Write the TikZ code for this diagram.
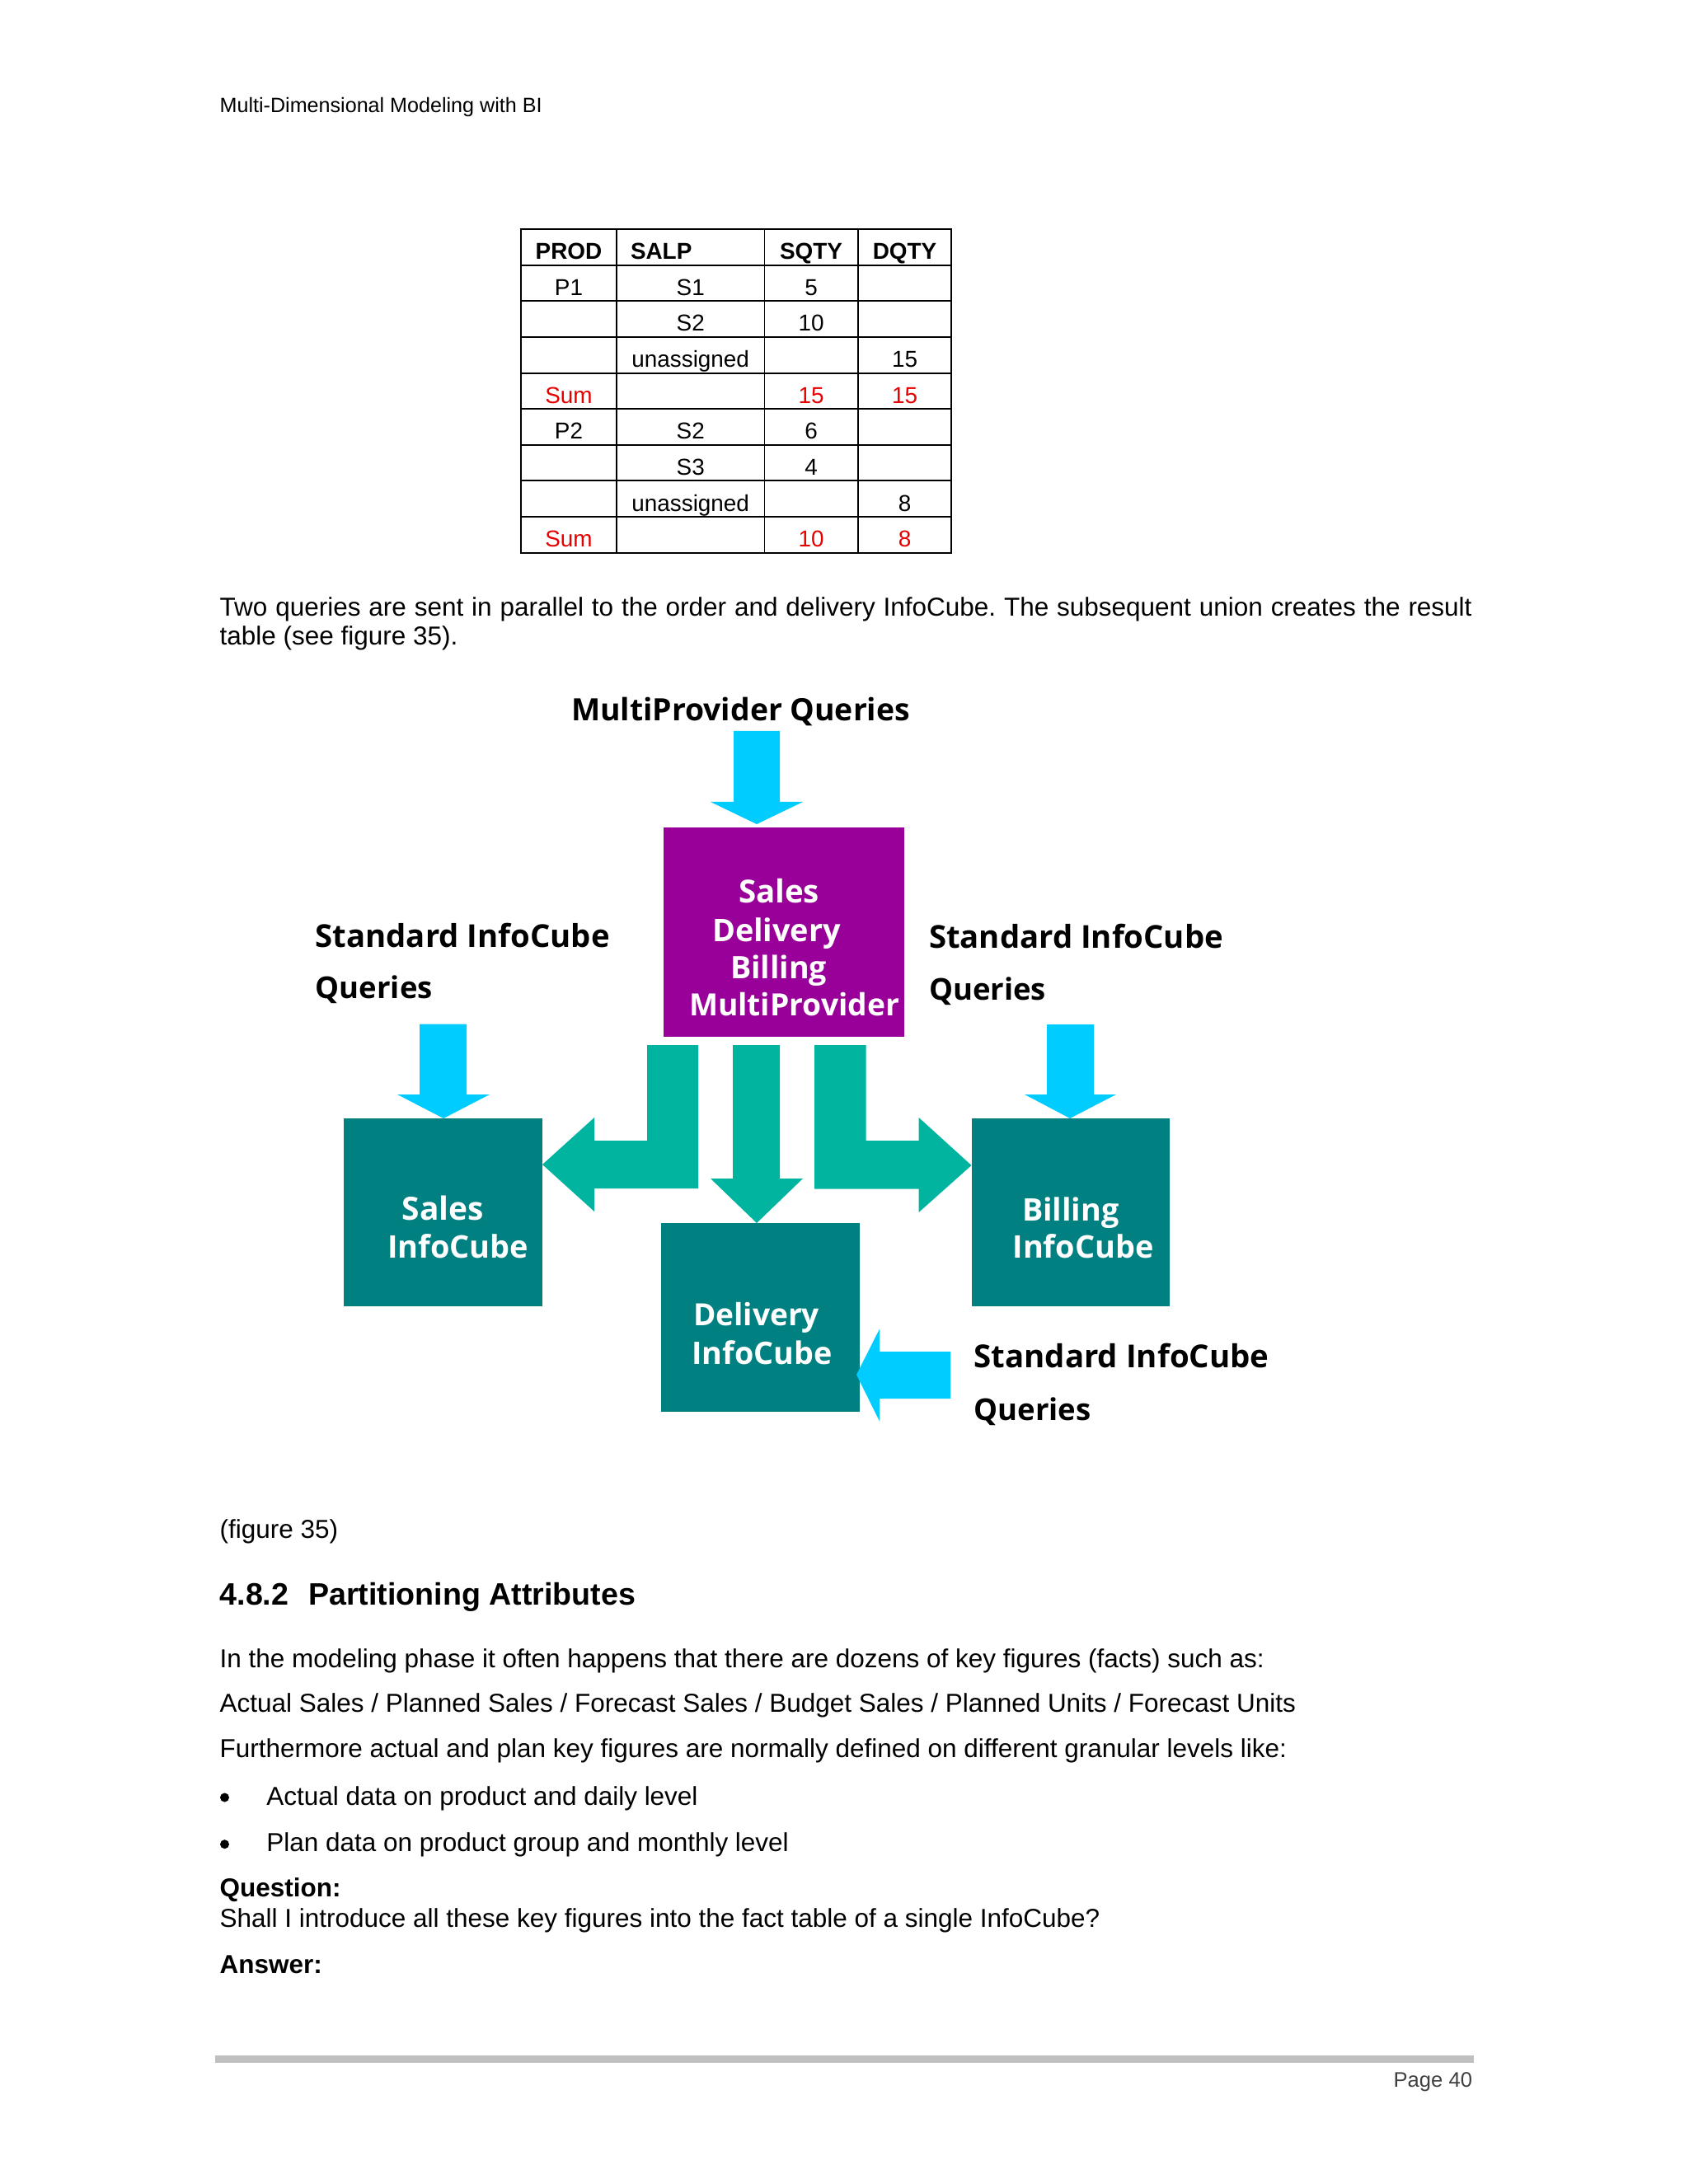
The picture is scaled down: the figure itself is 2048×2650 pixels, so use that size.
\documentclass[tikz,border=0pt]{standalone}
\usepackage{fontspec}
\usepackage{graphicx}
\setmainfont{Liberation Sans}
\newfontfamily\dfont{Open Sans}
\newlength\pxu
\setlength\pxu{0.25pt}
\frenchspacing
\definecolor{cyanarr}{HTML}{00CCFF}
\definecolor{purp}{HTML}{990099}
\definecolor{tealbox}{HTML}{008080}
\definecolor{tealarr}{HTML}{00B4A0}
\definecolor{sumred}{HTML}{E60000}
\definecolor{rulegray}{HTML}{C0C0C0}
\definecolor{pagegray}{HTML}{404040}
\newcommand{\fw}[2]{\resizebox{#1\pxu}{!}{\dfont\bfseries #2}}
\begin{document}
\begin{tikzpicture}[x=0.25pt,y=-0.25pt,
  txt/.style={inner sep=0pt, outer sep=0pt, anchor=base west},
  ctxt/.style={inner sep=0pt, outer sep=0pt, anchor=base},
  body/.style={txt, font=\fontsize{7.87pt}{9pt}\selectfont\frenchspacing},
  bodyb/.style={body, font=\fontsize{7.87pt}{9pt}\selectfont\bfseries},
  tcell/.style={ctxt, font=\fontsize{6.97pt}{8pt}\selectfont},
  thead/.style={inner sep=0pt, outer sep=0pt, font=\fontsize{6.97pt}{8pt}\selectfont\bfseries},
  tsum/.style={tcell, text=sumred},
  grid/.style={draw=black, line width=0.45pt},
  box/.style={draw=none, inner sep=0pt, outer sep=0pt},
  wlab/.style={ctxt, text=white},
  blab/.style={txt, text=black},
  bul/.style={circle, fill=black, draw=none, inner sep=0pt, minimum size=11\pxu},
  cyanblk/.style={fill=cyanarr, draw=none},
  tealblk/.style={fill=tealarr, draw=none}]
\useasboundingbox (0,0) rectangle (2048,2650);
\fill[white] (0,0) rectangle (2048,2650);

% running header
\node[txt, font=\fontsize{6.28pt}{7.5pt}\selectfont] (hdr) at (266.7,136.7) {Multi-Dimensional Modeling with BI};

% table
\draw[grid] (632,278.3) rectangle (1154,670.7);
\foreach \yy in {321.7,365.3,409,452.7,496.3,540,583.3,627.3}
  \draw[grid] (632,\yy) -- (1154,\yy);
\foreach \xx in {748,927.4,1041}
  \draw[grid] (\xx,278.3) -- (\xx,670.7);

\node[thead, anchor=base] (hprod) at (690,315) {PROD};
\node[thead, anchor=base west] (hsalp) at (765,315) {SALP};
\node[thead, anchor=base] (hsqty) at (984,315) {SQTY};
\node[thead, anchor=base] (hdqty) at (1097.5,315) {DQTY};

\node[tcell] (p1) at (690,358.3) {P1};
\node[tcell] (s1) at (837.7,358.3) {S1};
\node[tcell] (q1) at (984,358.3) {5};

\node[tcell] (s2a) at (837.7,402) {S2};
\node[tcell] (q2) at (984,402) {10};

\node[tcell] (ua) at (837.7,445.7) {unassigned};
\node[tcell] (d1) at (1097.5,445.7) {15};

\node[tsum] (sum1) at (690,489.3) {Sum};
\node[tsum] (sq1) at (984,489.3) {15};
\node[tsum] (sd1) at (1097.5,489.3) {15};

\node[tcell] (p2) at (690,533) {P2};
\node[tcell] (s2b) at (837.7,533) {S2};
\node[tcell] (q3) at (984,533) {6};

\node[tcell] (s3) at (837.7,576.3) {S3};
\node[tcell] (q4) at (984,576.3) {4};

\node[tcell] (ub) at (837.7,620.3) {unassigned};
\node[tcell] (d2) at (1097.5,620.3) {8};

\node[tsum] (sum2) at (690,663.7) {Sum};
\node[tsum] (sq2) at (984,663.7) {10};
\node[tsum] (sd2) at (1097.5,663.7) {8};

% paragraph (first line justified)
\node[body] (para1) at (266.7,747.7) {\makebox[1519\pxu][s]{Two queries are sent in parallel to the order and delivery InfoCube. The subsequent union creates the result}};
\node[body] (para2) at (266.7,782.7) {table (see figure 35).};

% ---------- diagram ----------
\node[box, fill=purp, minimum width=292\pxu, minimum height=254\pxu] (mp) at (951,1131) {};

% teal block arrows from MultiProvider
\fill[tealblk] (847,1268) -- (785,1268) -- (785,1384) -- (721,1384) -- (721,1356) -- (658,1413) -- (721,1470) -- (721,1442) -- (847,1442) -- cycle;
\fill[tealblk] (889,1268) -- (946,1268) -- (946,1430) -- (974,1430) -- (918,1484) -- (862,1430) -- (889,1430) -- cycle;
\fill[tealblk] (988,1268) -- (1050.6,1268) -- (1050.6,1384) -- (1114.6,1384) -- (1114.6,1356) -- (1178.5,1414) -- (1114.6,1471) -- (1114.6,1442.5) -- (988,1442.5) -- cycle;

% InfoCube boxes
\node[box, fill=tealbox, minimum width=241\pxu, minimum height=228\pxu] (sales) at (537.5,1471) {};
\node[box, fill=tealbox, minimum width=240.3\pxu, minimum height=228\pxu] (billing) at (1298.65,1471) {};
\node[box, fill=tealbox, minimum width=241\pxu, minimum height=229\pxu] (delivery) at (922.5,1598.5) {};

% cyan query arrows
\fill[cyanblk] (890,887) -- (946,887) -- (946,973) -- (974,973) -- (918,1000) -- (862,973) -- (890,973) -- cycle;
\fill[cyanblk] (509,1242.7) -- (566,1242.7) -- (566,1328) -- (594,1328) -- (538,1357) -- (482,1328) -- (509,1328) -- cycle;
\fill[cyanblk] (1270,1243) -- (1327,1243) -- (1327,1328) -- (1354,1328) -- (1298,1357) -- (1243,1328) -- (1270,1328) -- cycle;
\fill[cyanblk] (1153,1640) -- (1153,1697) -- (1067,1697) -- (1067,1724.5) -- (1039,1668) -- (1067,1612.5) -- (1067,1640) -- cycle;

% box labels
\node[wlab] (mp1) at (945,1095) {\fw{98}{Sales}};
\node[wlab] (mp2) at (942,1142) {\fw{156}{Delivery}};
\node[wlab] (mp3) at (944.5,1187) {\fw{117}{Billing}};
\node[wlab] (mp4) at (963.5,1232) {\fw{255}{MultiProvider}};

\node[wlab] (sl1) at (537.4,1480.7) {\fw{99}{Sales}};
\node[wlab] (sl2) at (555.5,1526.4) {\fw{171}{InfoCube}};

\node[wlab] (bl1) at (1298.8,1481.8) {\fw{117.5}{Billing}};
\node[wlab] (bl2) at (1314,1526.4) {\fw{171}{InfoCube}};

\node[wlab] (dl1) at (917.5,1608) {\fw{153}{Delivery}};
\node[wlab] (dl2) at (924.3,1655) {\fw{170}{InfoCube}};

% black labels
\node[blab] (mpq) at (693,875) {\fw{411}{MultiProvider Queries}};
\node[blab] (lq1) at (382.7,1149.3) {\fw{357}{Standard InfoCube}};
\node[blab] (lq2) at (382.7,1211.7) {\fw{142}{Queries}};
\node[blab] (rq1) at (1127,1150) {\fw{357}{Standard InfoCube}};
\node[blab] (rq2) at (1127,1213) {\fw{142}{Queries}};
\node[blab] (bq1) at (1181.5,1659) {\fw{358}{Standard InfoCube}};
\node[blab] (bq2) at (1181.5,1723) {\fw{142}{Queries}};

% ---------- text below ----------
\node[body] (fig) at (266.7,1866.7) {(figure 35)};
\node[txt, font=\fontsize{9.4pt}{11pt}\selectfont\bfseries] (sec) at (266.7,1947.3) {4.8.2\hspace{24\pxu}Partitioning Attributes};
\node[body] (l1) at (266.7,2023.3) {In the modeling phase it often happens that there are dozens of key figures (facts) such as:};
\node[body] (l2) at (266.7,2077.3) {Actual Sales / Planned Sales / Forecast Sales / Budget Sales / Planned Units / Forecast Units};
\node[body] (l3) at (266.7,2132.3) {Furthermore actual and plan key figures are normally defined on different granular levels like:};
\node[bul] (b1) at (272.5,2181) {};
\node[body] (l4) at (323.3,2190) {Actual data on product and daily level};
\node[bul] (b2) at (272.5,2237.7) {};
\node[body] (l5) at (323.3,2246.7) {Plan data on product group and monthly level};
\node[bodyb] (qu) at (266.7,2301.7) {Question:};
\node[body] (l6) at (266.7,2338.3) {Shall I introduce all these key figures into the fact table of a single InfoCube?};
\node[bodyb] (an) at (266.7,2394) {Answer:};

% footer
\fill[rulegray] (261,2494) rectangle (1788,2503);
\node[inner sep=0pt, outer sep=0pt, anchor=base east, text=pagegray, font=\fontsize{6.4pt}{7.5pt}\selectfont] (pg) at (1786,2532) {Page 40};
\end{tikzpicture}
\end{document}
